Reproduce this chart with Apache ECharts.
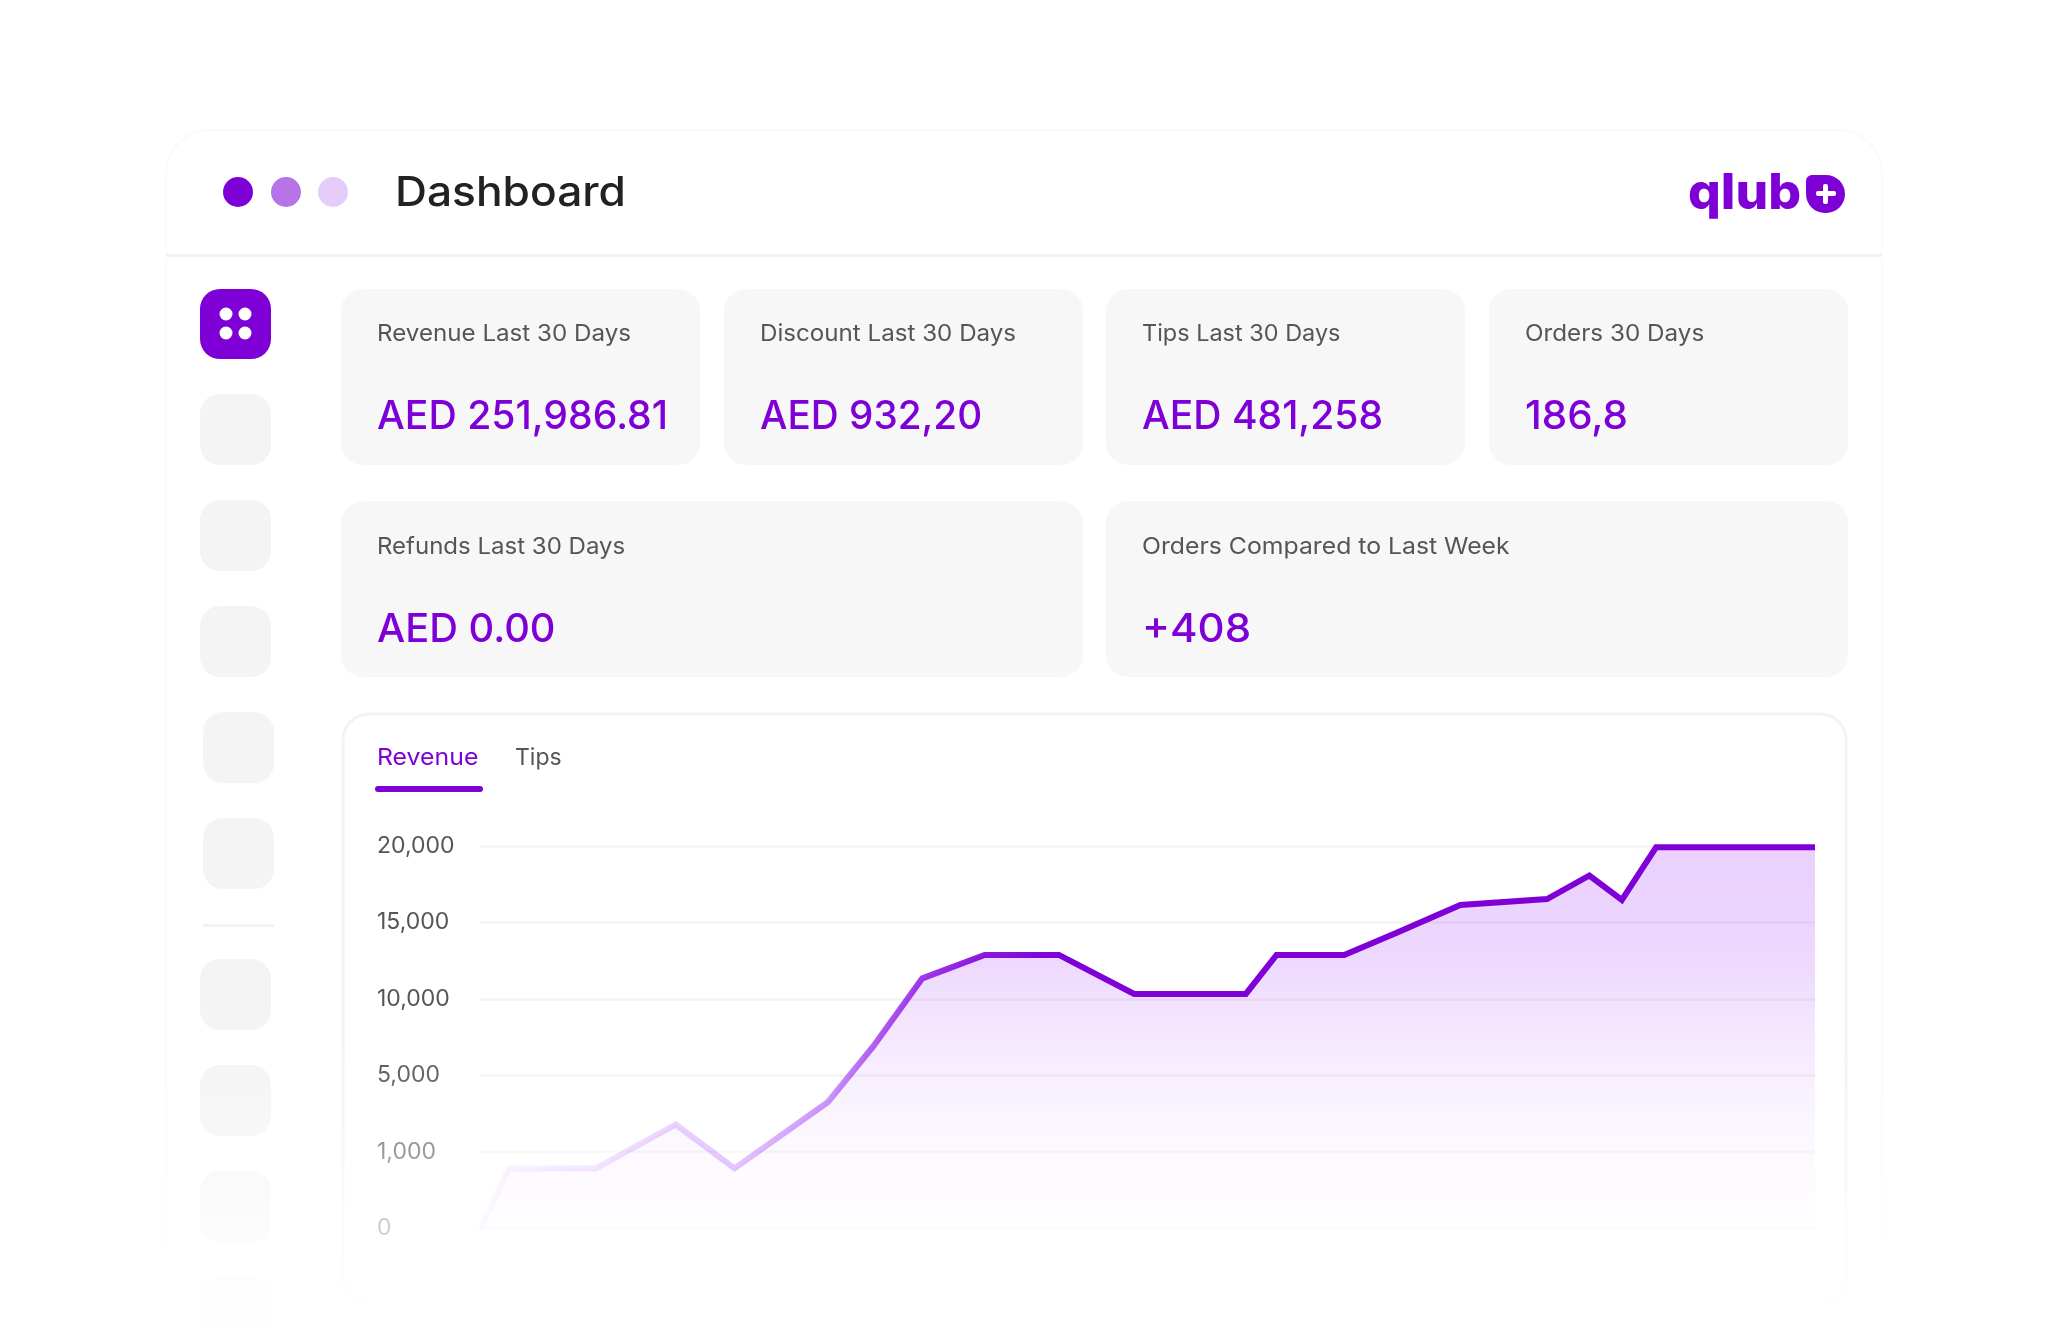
<!DOCTYPE html>
<html>
<head>
<meta charset="utf-8">
<title>Dashboard</title>
<script src="https://cdn.jsdelivr.net/npm/echarts@6/dist/echarts.min.js"></script>
<style>
  html, body { margin: 0; padding: 0; background: #fff; }
  #main { width: 2048px; height: 1342px; }
</style>
</head>
<body>
<div id="main"></div>
<script>
const purple = '#7f00d6';
const fontName = 'Inter';

// revenue line (x is day of a 30 day window)
const days = [0, 0.65, 2.6, 4.4, 5.72, 7.82, 8.84, 9.94, 11.34, 13.01, 14.7, 17.21, 17.9, 19.42, 20.6, 22.03, 23.98, 24.93, 25.66, 26.43, 30];
const revenue = [0, 780, 780, 2420, 780, 3600, 6900, 11340, 12870, 12870, 10320, 10320, 12870, 12870, 14330, 16140, 16530, 18070, 16470, 19920, 19920];

// the y axis is evenly spaced but not linear
const tickValues = [0, 1000, 5000, 10000, 15000, 20000];
const tickLabels = ['0', '1,000', '5,000', '10,000', '15,000', '20,000'];

const smallCards = ['Revenue Last 30 Days', 'Discount Last 30 Days', 'Tips Last 30 Days', 'Orders 30 Days'];
const smallValues = ['AED 251,986.81', 'AED 932,20', 'AED 481,258', '186,8'];
const wideCards = ['Refunds Last 30 Days', 'Orders Compared to Last Week'];
const wideValues = ['AED 0.00', '+408'];
const tabs = ['Revenue', 'Tips'];

// Inter runs narrower or wider than the lettering in the picture, per string
const smallNameStretch = [1.05, 1.05, 1.02, 1.054];
const smallValueStretch = [0.98, 0.968, 0.977, 1.01];
const wideNameStretch = [1.044, 1.077];
const wideValueStretch = [0.995, 1.05];

toAxis = (v) => {
    let i = 0;
    while (i < tickValues.length - 2 && v > tickValues[i + 1]) i++;
    return i + (v - tickValues[i]) / (tickValues[i + 1] - tickValues[i]);
}

const lineData = days.map((d, i) => [d, toAxis(revenue[i])]);

box = (x, y, width, height, r, fill) => ({
    type: 'rect',
    silent: true,
    shape: { x, y, width, height, r },
    style: { fill },
});

label = (text, x, y, fontSize, fill, fontWeight = 400, stretch = 1) => ({
    type: 'text',
    silent: true,
    x,
    y,
    scaleX: stretch,
    style: { text, fontSize, fill, fontWeight, fontFamily: fontName, textVerticalAlign: 'middle' },
});

dot = (cx, cy, r, fill) => ({
    type: 'circle',
    silent: true,
    shape: { cx, cy, r },
    style: { fill },
});

const shapes = [];

// window frame and header
shapes.push({
    type: 'rect',
    silent: true,
    shape: { x: 166, y: 130, width: 1716, height: 1400, r: 44 },
    style: { fill: '#fff', stroke: '#fafafa', lineWidth: 2 },
});
shapes.push(box(166, 254, 1716, 3, 0, '#f3f3f3'));
shapes.push(dot(238, 192, 15, purple), dot(286, 192, 15, '#b574e8'), dot(333, 192, 15, '#e5ccfa'));
shapes.push(label('Dashboard', 395, 194, 41, '#222', 500, 1.08));

// logo
shapes.push(label('qlub', 1688, 194, 50, purple, 800, 1.03));
shapes.push(box(1806, 175, 39, 38, [6, 19, 19, 19], purple));
shapes.push(box(1823, 184, 5, 20, 2, '#fff'), box(1816, 191, 20, 5, 2, '#fff'));

// sidebar
shapes.push(box(200, 289, 71, 70, 20, purple));
[[226, 314], [245, 314], [226, 333], [245, 333]].forEach((c) => shapes.push(dot(c[0], c[1], 6.5, '#fff')));
[[200, 394], [200, 500], [200, 606], [203, 712], [203, 818], [200, 959], [200, 1065], [200, 1171], [200, 1277]].forEach((p) => {
    shapes.push(box(p[0], p[1], 71, 71, 20, '#f4f4f4'));
});
shapes.push(box(203, 924, 71, 3, 0, '#f3f3f3'));

// top cards
const smallX = [341, 724, 1106, 1489];
smallCards.forEach((name, i) => {
    shapes.push(box(smallX[i], 289, 359, 176, 22, '#f7f7f7'));
    shapes.push(label(name, smallX[i] + 36, 334, 23, '#555', 400, smallNameStretch[i]));
    shapes.push(label(smallValues[i], smallX[i] + 36, 417.2, 40, purple, 500, smallValueStretch[i]));
});
const wideX = [341, 1106];
wideCards.forEach((name, i) => {
    shapes.push(box(wideX[i], 501, 742, 176, 22, '#f7f7f7'));
    shapes.push(label(name, wideX[i] + 36, 547, 23, '#555', 400, wideNameStretch[i]));
    shapes.push(label(wideValues[i], wideX[i] + 36, 629.7, 40, purple, 500, wideValueStretch[i]));
});

// chart panel
shapes.push({
    type: 'rect',
    silent: true,
    shape: { x: 343, y: 714, width: 1503, height: 590, r: 26 },
    style: { fill: '#fff', stroke: '#f3f3f3', lineWidth: 3 },
});
shapes.push(label(tabs[0], 377, 758, 23, purple, 400, 1.08));
shapes.push(label(tabs[1], 515, 758, 23, '#555'));
shapes.push(box(375, 786, 108, 6, 3, purple));

// everything below the grid fades out to white, the series sit on top of this
shapes.push({
    type: 'rect',
    silent: true,
    z: 1,
    shape: { x: 0, y: 1030, width: 2048, height: 312 },
    style: {
        fill: new echarts.graphic.LinearGradient(0, 0, 0, 1, [
            { offset: 0, color: 'rgba(255,255,255,0)' },
            { offset: 0.15, color: 'rgba(255,255,255,0.1)' },
            { offset: 0.4, color: 'rgba(255,255,255,0.42)' },
            { offset: 0.64, color: 'rgba(255,255,255,0.72)' },
            { offset: 0.88, color: 'rgba(255,255,255,0.9)' },
            { offset: 1, color: 'rgba(255,255,255,1)' },
        ]),
    },
});

const myChart = echarts.init(document.getElementById('main'));

myChart.setOption({
    animation: false,
    backgroundColor: '#fff',
    graphic: { elements: shapes },
    grid: { left: 480, right: 233, top: 846, bottom: 114 },
    xAxis: { type: 'value', min: 0, max: 30, show: false },
    yAxis: {
        type: 'value',
        min: 0,
        max: 5,
        interval: 1,
        axisLine: { show: false },
        axisTick: { show: false },
        splitLine: { lineStyle: { color: '#f3f3f3', width: 2.5 } },
        axisLabel: {
            align: 'left',
            margin: 103,
            fontSize: 23,
            fontFamily: fontName,
            color: '#555',
            formatter: (value) => tickLabels[value],
        },
    },
    series: [
        {
            type: 'line',
            data: lineData,
            showSymbol: false,
            lineStyle: {
                width: 6,
                join: 'miter',
                color: new echarts.graphic.LinearGradient(480, 0, 1815, 0, [
                    { offset: 0, color: 'rgba(160,50,250,0.02)' },
                    { offset: 0.022, color: 'rgba(160,50,250,0.06)' },
                    { offset: 0.086, color: 'rgba(160,50,250,0.12)' },
                    { offset: 0.146, color: 'rgba(160,50,250,0.22)' },
                    { offset: 0.19, color: 'rgba(160,50,250,0.28)' },
                    { offset: 0.262, color: 'rgba(150,40,240,0.5)' },
                    { offset: 0.3, color: 'rgba(140,20,230,0.7)' },
                    { offset: 0.33, color: 'rgba(135,10,225,0.8)' },
                    { offset: 0.378, color: 'rgba(127,0,214,0.9)' },
                    { offset: 0.434, color: 'rgba(127,0,214,1)' },
                    { offset: 1, color: 'rgba(127,0,214,1)' },
                ], true),
            },
            areaStyle: {
                color: new echarts.graphic.LinearGradient(0, 846, 0, 1230, [
                    { offset: 0, color: 'rgba(160,50,250,0.33)' },
                    { offset: 0.3, color: 'rgba(160,50,250,0.27)' },
                    { offset: 0.4, color: 'rgba(160,50,250,0.21)' },
                    { offset: 0.6, color: 'rgba(160,50,250,0.11)' },
                    { offset: 0.8, color: 'rgba(160,50,250,0.035)' },
                    { offset: 1, color: 'rgba(160,50,250,0.012)' },
                ], true),
            },
        },
    ],
});

window.addEventListener('resize', () => {
    myChart.resize();
});
</script>
</body>
</html>
